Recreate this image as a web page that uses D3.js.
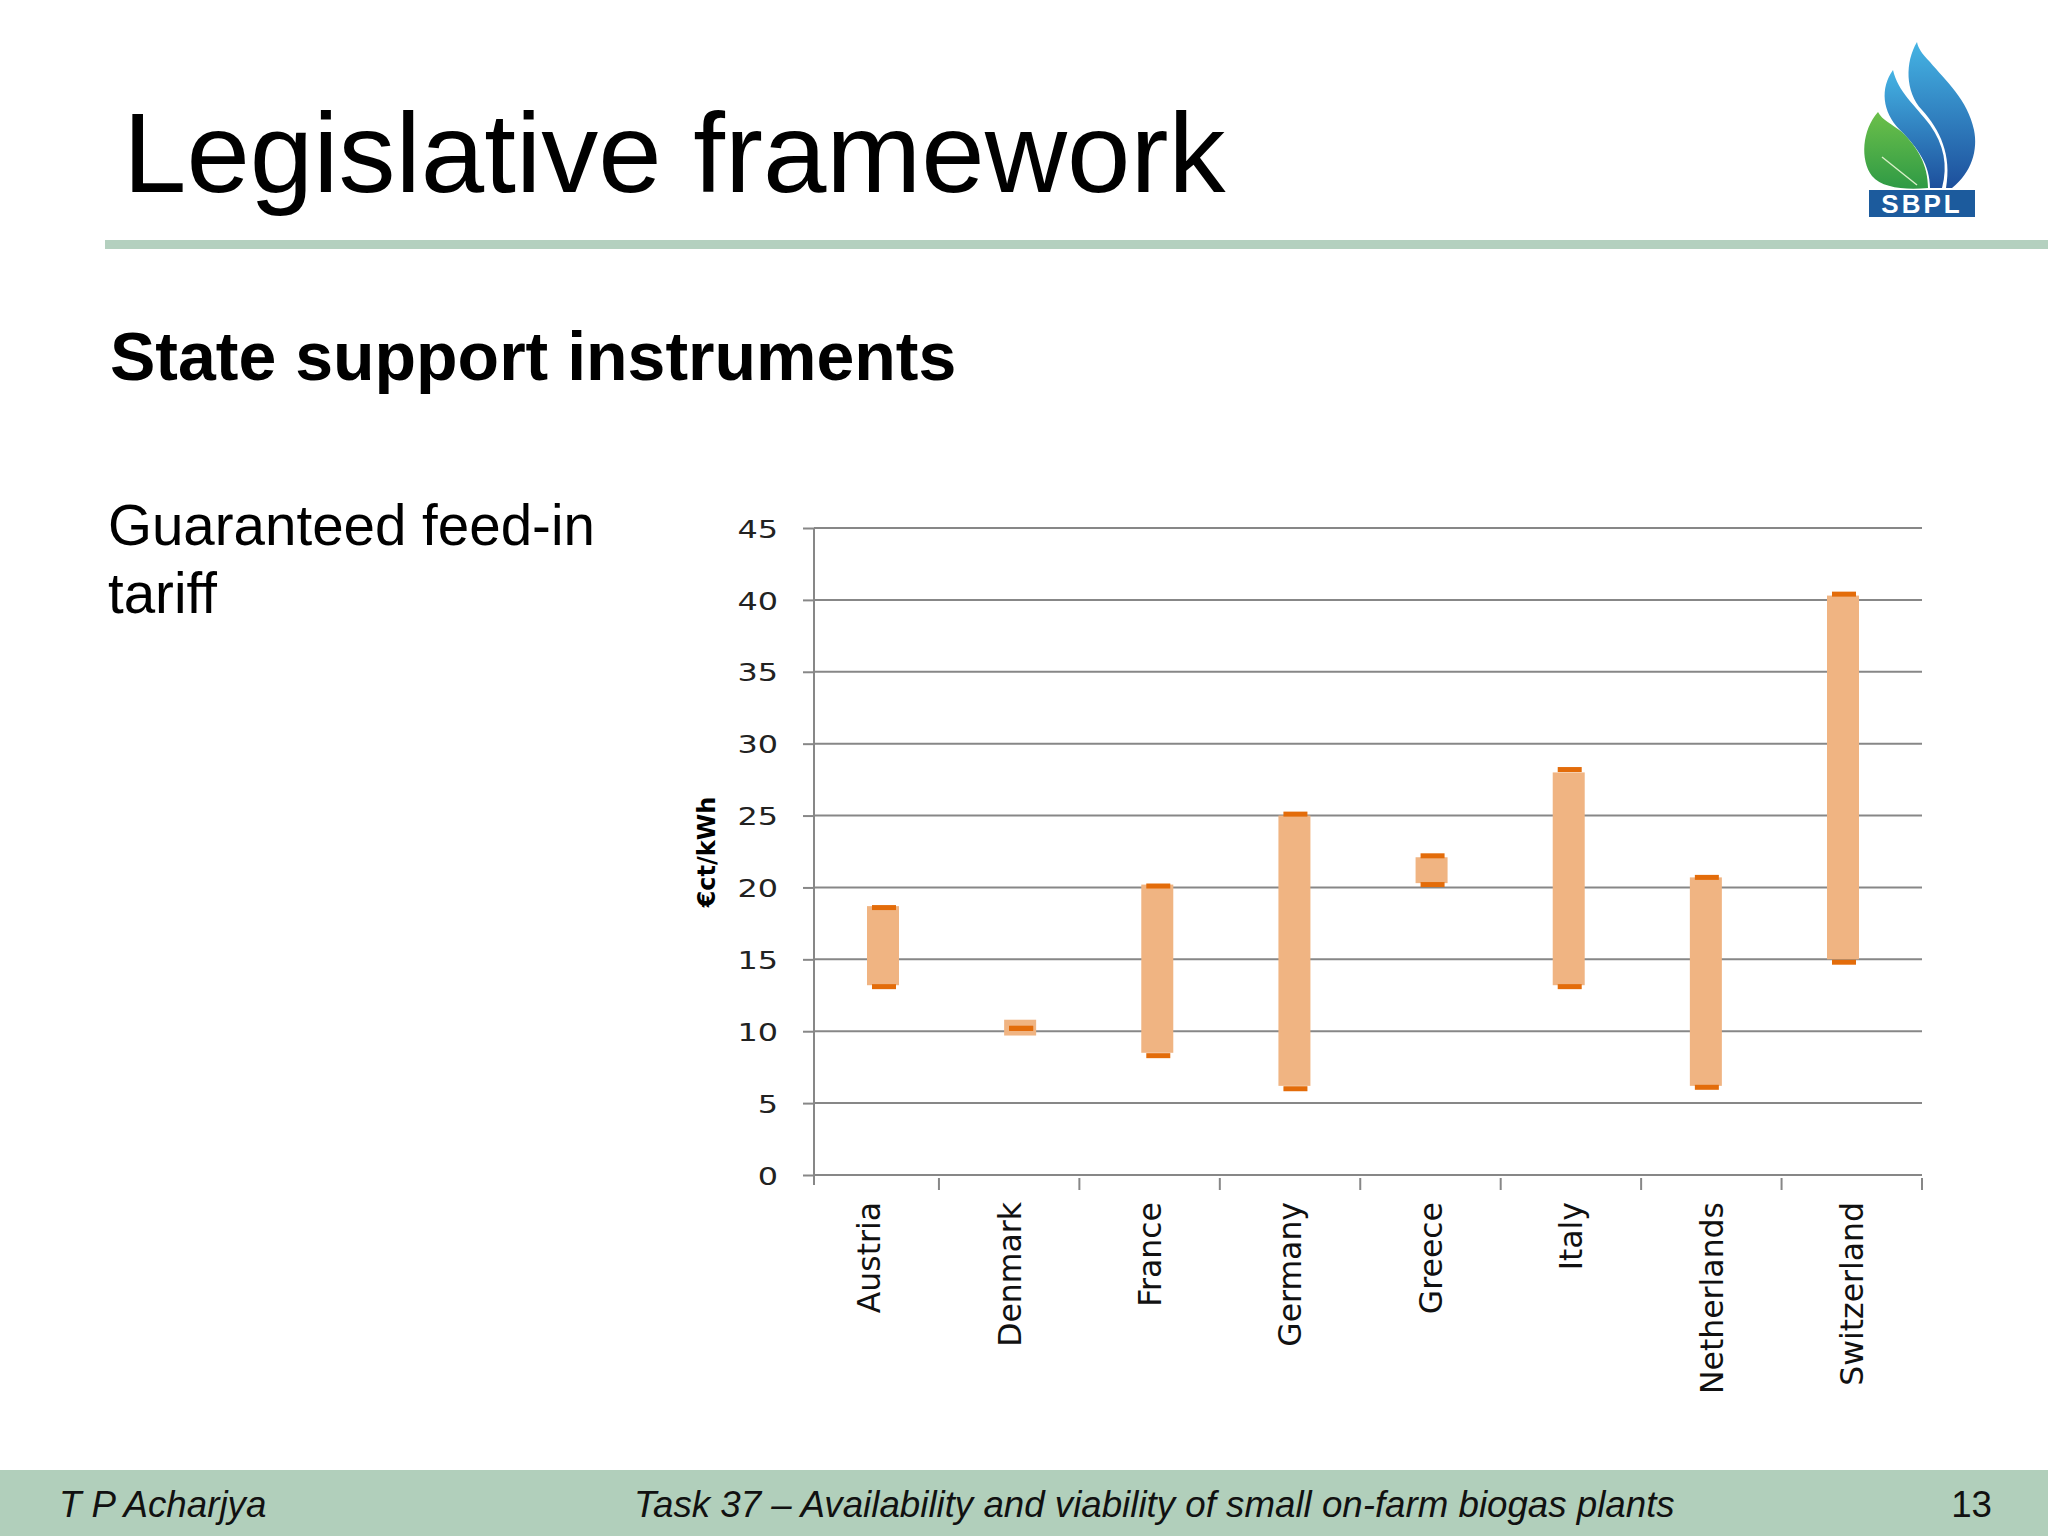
<!DOCTYPE html>
<html>
<head>
<meta charset="utf-8">
<script src="https://cdn.jsdelivr.net/npm/d3@7"></script>
<style>
  body { margin: 0; background: #ffffff; }
  svg { display: block; }
</style>
</head>
<body>
<div id="slide"></div>
<script>
// data (€ct/kWh)
const categories = ["Austria", "Denmark", "France", "Germany", "Greece", "Italy", "Netherlands", "Switzerland"];
const lowTariff  = [13.1, 10.2, 8.3, 6.0, 20.2, 13.1, 6.1, 14.8];
const highTariff = [18.6, 10.2, 20.1, 25.1, 22.2, 28.2, 20.7, 40.4];
const barLow     = [13.2, 9.7, 8.5, 6.2, 20.3, 13.2, 6.2, 15.0];
const barHigh    = [18.7, 10.8, 20.2, 25.0, 22.1, 28.0, 20.7, 40.3];
const yTicks = [0, 5, 10, 15, 20, 25, 30, 35, 40, 45];

const W = 2048, H = 1536;
const svg = d3.select("#slide")
    .append("svg")
    .attr("width", W)
    .attr("height", H);

// ---- slide furniture
svg.append("text")
    .attr("x", 123).attr("y", 192)
    .style("font-family", "'Liberation Sans', Arial, sans-serif")
    .style("font-size", "114px")
    .style("fill", "#000")
    .text("Legislative framework");

svg.append("rect")
    .attr("x", 105).attr("y", 240)
    .attr("width", W - 105).attr("height", 9)
    .style("fill", "#b4d0bf");

svg.append("text")
    .attr("x", 110).attr("y", 380)
    .style("font-family", "'Liberation Sans', Arial, sans-serif")
    .style("font-size", "68px")
    .style("font-weight", "bold")
    .text("State support instruments");

const leftText = svg.append("text")
    .style("font-family", "'Liberation Sans', Arial, sans-serif")
    .style("font-size", "56.5px");
leftText.append("tspan").attr("x", 108).attr("y", 545).text("Guaranteed feed-in");
leftText.append("tspan").attr("x", 108).attr("y", 613).text("tariff");

// footer
svg.append("rect")
    .attr("x", 0).attr("y", 1470)
    .attr("width", W).attr("height", H - 1470)
    .style("fill", "#b1cfbb");

const footer = svg.append("g")
    .style("font-family", "'Liberation Sans', Arial, sans-serif")
    .style("font-size", "36.7px")
    .style("fill", "#111");
footer.append("text").attr("x", 59).attr("y", 1517).style("font-style", "italic").text("T P Acharjya");
footer.append("text").attr("x", 634).attr("y", 1517).style("font-style", "italic")
    .text("Task 37 \u2013 Availability and viability of small on-farm biogas plants");
footer.append("text").attr("x", 1992).attr("y", 1517).attr("text-anchor", "end").text("13");

// logo
const logo = svg.append("g");
const defs = svg.append("defs");
const blueGrad = defs.append("linearGradient").attr("id", "blueGrad")
    .attr("x1", 0).attr("y1", 0).attr("x2", 0).attr("y2", 1);
blueGrad.append("stop").attr("offset", "0%").attr("stop-color", "#45b4e4");
blueGrad.append("stop").attr("offset", "100%").attr("stop-color", "#1d4f9c");
const greenGrad = defs.append("linearGradient").attr("id", "greenGrad")
    .attr("x1", 0).attr("y1", 0).attr("x2", 0).attr("y2", 1);
greenGrad.append("stop").attr("offset", "0%").attr("stop-color", "#6cc04a");
greenGrad.append("stop").attr("offset", "100%").attr("stop-color", "#2f9a45");

logo.append("path")
    .attr("d", "M1917,42 C1905,62 1905,92 1922,110 C1940,130 1952,155 1946,188 L1952,188 C1972,172 1978,150 1974,130 C1968,100 1945,80 1930,62 C1922,54 1918,48 1917,42 Z")
    .style("fill", "url(#blueGrad)");
logo.append("path")
    .attr("d", "M1893,70 C1880,88 1882,112 1900,130 C1918,148 1930,165 1930,188 L1942,188 C1948,165 1944,145 1930,125 C1915,105 1898,92 1893,70 Z")
    .style("fill", "url(#blueGrad)");
logo.append("path")
    .attr("d", "M1878,112 C1862,130 1860,160 1872,176 C1882,188 1905,190 1928,188 C1928,165 1918,148 1902,132 C1892,124 1882,120 1878,112 Z")
    .style("fill", "url(#greenGrad)");
logo.append("path")
    .attr("d", "M1882,157 L1917,185")
    .style("stroke", "#d9f0c8").style("stroke-width", 1.5);
logo.append("rect")
    .attr("x", 1869).attr("y", 190).attr("width", 106).attr("height", 27)
    .style("fill", "#1c5b9d");
logo.append("text")
    .attr("x", 1922).attr("y", 213).attr("text-anchor", "middle")
    .style("font-family", "'Liberation Sans', Arial, sans-serif")
    .style("font-size", "26px").style("font-weight", "bold")
    .style("letter-spacing", "3px")
    .style("fill", "#ffffff")
    .text("SBPL");

// ---- chart
const plot = { left: 814, right: 1922, top: 528, bottom: 1175 };
const gridColor = "#878787";

const y = d3.scaleLinear()
    .domain([0, 45])
    .range([plot.bottom, plot.top]);

// category slots for axis ticks / labels, and the slightly tighter slot set the bars sit on
const xBand = d3.scaleBand()
    .domain(categories)
    .range([798.5, plot.right]);
const xBar = d3.scalePoint()
    .domain(categories)
    .range([883, 1843]);

const chart = svg.append("g");

// gridlines
chart.selectAll(".grid")
    .data(yTicks)
    .enter()
    .append("line")
    .attr("class", "grid")
    .attr("x1", plot.left)
    .attr("x2", plot.right)
    .attr("y1", d => y(d))
    .attr("y2", d => y(d))
    .style("stroke", gridColor)
    .style("stroke-width", 2);

// y axis
const yAxis = d3.axisLeft(y)
    .tickValues(yTicks)
    .tickSize(11)
    .tickPadding(0);

const yAxisG = chart.append("g")
    .attr("transform", `translate(${plot.left},0)`)
    .call(yAxis);
yAxisG.select(".domain").remove();
yAxisG.selectAll(".tick line").style("stroke", gridColor).style("stroke-width", 2);
yAxisG.selectAll(".tick text")
    .attr("x", -36 / 1.25)
    .attr("dy", "0.36em")
    .attr("transform", "scale(1.25,1)")
    .style("font-family", "'DejaVu Sans', Verdana, sans-serif")
    .style("font-size", "25.5px")
    .style("fill", "#222");

chart.append("line")
    .attr("x1", plot.left).attr("x2", plot.left)
    .attr("y1", plot.top).attr("y2", plot.bottom + 10)
    .style("stroke", gridColor)
    .style("stroke-width", 2);

// y axis title
chart.append("text")
    .attr("transform", "translate(715,852) rotate(-90)")
    .attr("text-anchor", "middle")
    .style("font-family", "'DejaVu Sans', Verdana, sans-serif")
    .style("font-size", "24px")
    .style("font-weight", "bold")
    .style("fill", "#000")
    .text("\u20acct/kWh");

// x axis
const xAxis = d3.axisBottom(xBand).tickSize(0).tickPadding(0);
const xAxisG = chart.append("g")
    .attr("transform", `translate(0,${plot.bottom})`)
    .call(xAxis);
xAxisG.select(".domain").remove();
xAxisG.selectAll(".tick text")
    .attr("transform", "rotate(-90)")
    .attr("x", -27)
    .attr("y", 0)
    .attr("dy", "0.36em")
    .attr("text-anchor", "end")
    .style("font-family", "'DejaVu Sans', Verdana, sans-serif")
    .style("font-size", "31.5px")
    .style("fill", "#111");

// category separators
chart.selectAll(".sep")
    .data(categories)
    .enter()
    .append("line")
    .attr("class", "sep")
    .attr("x1", d => xBand(d) + xBand.bandwidth())
    .attr("x2", d => xBand(d) + xBand.bandwidth())
    .attr("y1", plot.bottom + 3)
    .attr("y2", plot.bottom + 15)
    .style("stroke", gridColor)
    .style("stroke-width", 2);

// up-down bars
const barW = 32, capW = 24, capH = 5;
chart.selectAll(".bar")
    .data(categories)
    .enter()
    .append("rect")
    .attr("class", "bar")
    .attr("x", d => xBar(d) - barW / 2)
    .attr("y", (d, i) => y(barHigh[i]))
    .attr("width", barW)
    .attr("height", (d, i) => y(barLow[i]) - y(barHigh[i]))
    .style("fill", "#f0b482");

// min / max markers
const caps = categories.flatMap((c, i) => [
    { c: c, v: lowTariff[i] },
    { c: c, v: highTariff[i] }
]);
chart.selectAll(".cap")
    .data(caps)
    .enter()
    .append("rect")
    .attr("class", "cap")
    .attr("x", d => xBar(d.c) - capW / 2 + 1)
    .attr("y", d => y(d.v) - capH / 2)
    .attr("width", capW)
    .attr("height", capH)
    .style("fill", "#e36c0a");
</script>
</body>
</html>
